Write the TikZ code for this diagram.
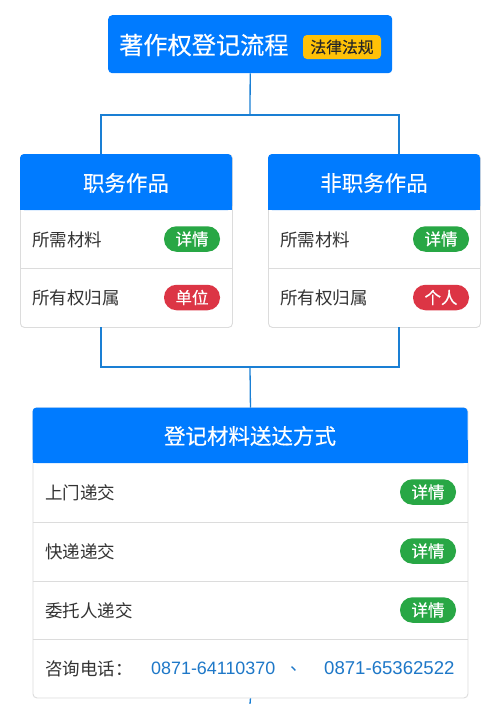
\documentclass[tikz,border=0pt]{standalone}
\usepackage{fontspec}
\setmainfont{Noto Sans CJK SC}
\newfontfamily\numfont{Liberation Sans}
\definecolor{pblue}{HTML}{007BFF}
\definecolor{pgreen}{HTML}{28A745}
\definecolor{pred}{HTML}{DC3545}
\definecolor{pyellow}{HTML}{FFC107}
\definecolor{lineblue}{HTML}{1A7FD4}
\definecolor{bordergrey}{HTML}{DCDCDC}
\definecolor{txt}{HTML}{333333}
\definecolor{phone}{HTML}{1E78C8}
\tikzset{
  conn/.style={draw=lineblue, line width=1.3pt},
  card/.style={draw=bordergrey, line width=0.9pt, rounded corners=4pt, fill=white, inner sep=0, anchor=north west},
  headtext/.style={text=white, inner sep=0, font=\fontsize{21.5}{21.5}\selectfont\addfontfeatures{FakeBold=0.3}},
  rowtext/.style={text=txt, inner sep=0, anchor=west, font=\fontsize{17.5}{17.5}\selectfont},
  badge/.style={rounded corners=12.5pt, minimum width=56pt, minimum height=25.5pt, inner sep=0, text=white, font=\fontsize{16.5}{16.5}\selectfont\addfontfeatures{FakeBold=0.4}},
  divider/.style={draw=bordergrey, line width=0.9pt},
  phonetext/.style={text=phone, inner sep=0, anchor=west}
}
\begin{document}
\begin{tikzpicture}[x=1pt,y=-1pt]
\useasboundingbox (0,0) rectangle (501,704);
% title
\node[fill=pblue, rounded corners=4pt, minimum width=284pt, minimum height=58pt, inner sep=0, anchor=north west] (t) at (108,15) {};
\node[text=white, inner sep=0, anchor=west, font=\fontsize{24.2}{24.2}\selectfont\addfontfeatures{FakeBold=0.3}] (tt) at (119,45) {著作权登记流程};
\node[fill=pyellow, rounded corners=4pt, minimum width=78pt, minimum height=24pt, inner sep=0, text={black!85}, font=\fontsize{15.8}{15.8}\selectfont\addfontfeatures{FakeBold=0.4}] (law) at (342,47) {法律法规};

% left card
\node[card, minimum width=212pt, minimum height=173pt] (c1) at (20,154) {};
\fill[pblue, rounded corners=4pt] (20,154) rectangle (232,210);
\fill[pblue] (20,190) rectangle (232,210);
\node[headtext] (h1) at (126,183) {职务作品};
\draw[divider] (20,268) -- (232,268);
\node[rowtext] (r11) at (32,239.5) {所需材料};
\node[badge, fill=pgreen] (b11) at (192,239) {详情};
\node[rowtext] (r12) at (32,298) {所有权归属};
\node[badge, fill=pred] (b12) at (192,297.5) {单位};

% right card
\node[card, minimum width=212pt, minimum height=173pt] (c2) at (268,154) {};
\fill[pblue, rounded corners=4pt] (268,154) rectangle (480,210);
\fill[pblue] (268,190) rectangle (480,210);
\node[headtext] (h2) at (374,183) {非职务作品};
\draw[divider] (268,268) -- (480,268);
\node[rowtext] (r21) at (280,239.5) {所需材料};
\node[badge, fill=pgreen] (b21) at (441,239) {详情};
\node[rowtext] (r22) at (280,298) {所有权归属};
\node[badge, fill=pred] (b22) at (441,297.5) {个人};

% bottom card
\node[card, minimum width=435pt, minimum height=290pt] (c3) at (32.5,407.5) {};
\fill[pblue, rounded corners=4pt] (32.5,407.5) rectangle (467.5,463);
\fill[pblue] (32.5,440) rectangle (467.5,463);
\node[headtext] (h3) at (250,436) {登记材料送达方式};
\draw[divider] (32.5,522) -- (467.5,522);
\draw[divider] (32.5,581) -- (467.5,581);
\draw[divider] (32.5,639.5) -- (467.5,639.5);
\node[rowtext] (r31) at (45,493) {上门递交};
\node[badge, fill=pgreen] (b31) at (428,492) {详情};
\node[rowtext] (r32) at (45,552) {快递递交};
\node[badge, fill=pgreen] (b32) at (428,551) {详情};
\node[rowtext] (r33) at (45,610.5) {委托人递交};
\node[badge, fill=pgreen] (b33) at (428,610) {详情};
\node[rowtext] (r34) at (45,669) {咨询电话：};
\node[phonetext, font=\numfont\fontsize{17.9}{17.9}\selectfont] (p1) at (151,668.5) {0871-64110370};
\node[phonetext, font=\fontsize{17.5}{17.5}\selectfont] (sep) at (290,669) {、};
\node[phonetext, font=\numfont\fontsize{18.6}{18.6}\selectfont] (p2) at (324,668.5) {0871-65362522};

% connectors
\coordinate (j1) at (250,115);
\coordinate (a1) at (101,154);
\coordinate (a2) at (399,154);
\coordinate (d1) at (101,327);
\coordinate (d2) at (399,327);
\coordinate (j2) at (250,367);
\coordinate (tail) at (250,704);
\draw[conn] (t.south) -- (j1);
\draw[conn] (j1) -| (a1);
\draw[conn] (j1) -| (a2);
\draw[conn] (d1) |- (j2);
\draw[conn] (d2) |- (j2);
\draw[conn] (j2) -- (c3.north);
\draw[conn] (c3.south) -- (tail);
\end{tikzpicture}
\end{document}
